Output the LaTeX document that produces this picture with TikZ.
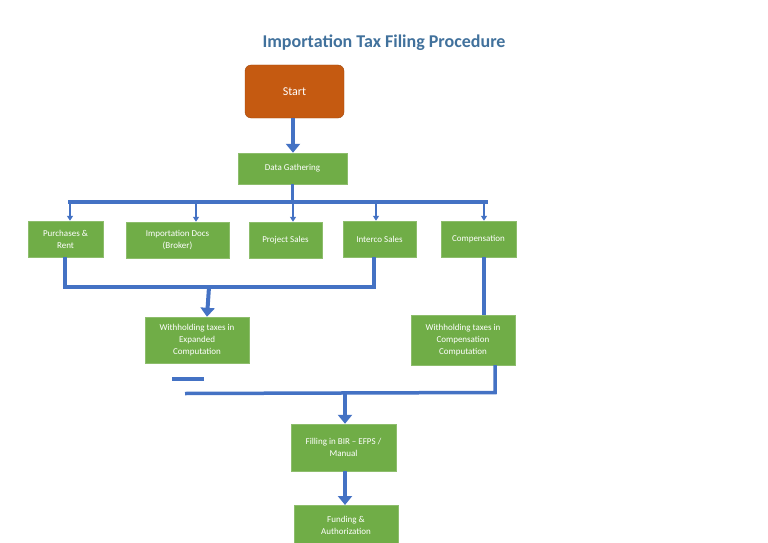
\documentclass[tikz,border=0pt]{standalone}
\usepackage{fontspec}
\setmainfont{Carlito}
\usetikzlibrary{arrows.meta}
\definecolor{gr}{HTML}{70AD47}
\definecolor{bl}{HTML}{4472C4}
\definecolor{tb}{HTML}{41719C}
\definecolor{org}{HTML}{C55A11}
\begin{document}
\begin{tikzpicture}[x=1pt,y=-1pt,
 box/.style={fill=gr,draw=gr!80!white,text=white,font=\fontsize{9}{12}\selectfont,align=center,inner sep=0pt},
 ln/.style={draw=bl,line width=3.5pt},
 thin/.style={draw=bl,line width=2pt,-{Triangle[length=5pt,width=6pt]}},
 big/.style={draw=bl,line width=4pt,-{Triangle[length=9pt,width=14pt]}}]
\useasboundingbox (0,0) rectangle (768,543);
\node[font=\fontsize{18}{20}\selectfont\bfseries,text=tb] (title) at (384,43) {Importation Tax Filing Procedure};
\node[fill=org,draw=org!80!black,rounded corners=6pt,text=white,font=\fontsize{12}{14}\selectfont,minimum width=99pt,minimum height=53pt] (start) at (294.5,91.5) {Start};
\node[box,minimum width=109pt,minimum height=31pt] (dg) at (292.5,168.5) {Data Gathering};
\node[box,minimum width=75pt,minimum height=36pt] (pr) at (65.5,239) {Purchases \&\\Rent};
\node[box,minimum width=103pt,minimum height=36pt] (im) at (177.5,240) {Importation Docs\\(Broker)};
\node[box,minimum width=73pt,minimum height=36pt] (ps) at (285.5,240) {Project Sales};
\node[box,minimum width=73pt,minimum height=36pt] (is) at (379.5,239) {Interco Sales};
\node[box,minimum width=75pt,minimum height=36pt] (cp) at (478.5,239) {Compensation};
\node[box,minimum width=104pt,minimum height=46pt] (we) at (197,340) {Withholding taxes in\\Expanded\\Computation};
\node[box,minimum width=104pt,minimum height=50pt] (wc) at (463,340) {Withholding taxes in\\Compensation\\Computation};
\node[box,minimum width=105pt,minimum height=47pt] (fi) at (343.5,447.5) {Filling in BIR -- EFPS /\\Manual};
\node[box,minimum width=104pt,minimum height=40pt,anchor=north] (fu) at (346,505) {Funding \&\\Authorization};
\draw[big] (start.south -| 293,0) -- (dg.north -| 293,0);
\coordinate (b0) at (70,202); \coordinate (b1) at (486,202);
\draw[ln] (dg.south) -- (292.5,202);
\draw[ln,line cap=rect] (b0) -- (b1);
\draw[thin] (70,202) -- (pr.north -| 70,0);
\draw[thin] (196,202) -- (im.north -| 196,0);
\draw[thin] (293,202) -- (ps.north -| 293,0);
\draw[thin] (376,202) -- (is.north -| 376,0);
\draw[thin] (484,202) -- (cp.north -| 484,0);
\draw[ln] (pr.south -| 65,0) -- (65,287) -- (374,287) -- (is.south -| 374,0);
\draw[big] (209,287) -- (we.north -| 207,0);
\draw[ln] (cp.south -| 484,0) -- (wc.north -| 484,0);
\draw[ln] (wc.south -| 495,0) -- (495,392.5) -- (185,393.5);
\coordinate (d0) at (172,379); \coordinate (d1) at (204,379);
\draw[ln] (d0) -- (d1);
\draw[big] (345,393) -- (fi.north -| 345,0);
\draw[big] (fi.south -| 345,0) -- (fu.north -| 345,0);
\end{tikzpicture}
\end{document}
